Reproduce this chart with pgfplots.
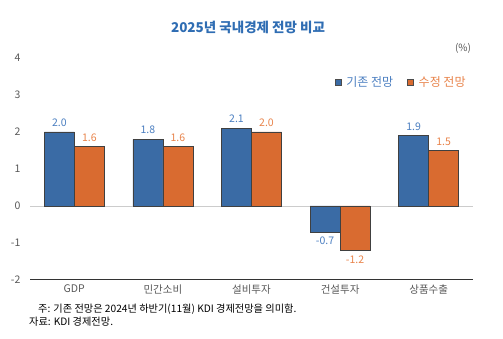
\documentclass[border=0pt]{standalone}
\usepackage{pgfplots}
\pgfplotsset{compat=1.18}
\usepackage{fontspec}
\setmainfont{Noto Sans CJK KR}
\definecolor{cblue}{HTML}{3A6BA5}
\definecolor{corange}{HTML}{D96B30}
\definecolor{lblue}{HTML}{4A7EC0}
\definecolor{lorange}{HTML}{E8834A}
\definecolor{tgray}{HTML}{595959}
\definecolor{ttitle}{HTML}{2F6DB3}
\begin{document}
\begin{tikzpicture}[x=1pt,y=1pt]
\useasboundingbox (0,0) rectangle (503,339);
\begin{axis}[
  at={(30pt,59pt)}, anchor=south west,
  scale only axis, width=443pt, height=222pt,
  ymin=-2, ymax=4, xmin=-0.5, xmax=4.5,
  ytick={-2,-1,0,1,2,3,4},
  xtick={0,1,2,3,4},
  xticklabels={GDP,민간소비,설비투자,건설투자,상품수출},
  axis x line*=bottom, axis y line*=left,
  x axis line style={draw=black!80, line width=1pt, -},
  y axis line style={draw=none},
  major tick length=0pt,
  tick label style={font=\fontsize{10.5}{11}\selectfont, text=tgray},
  /pgf/number format/assume math mode=true,
  yticklabel style={xshift=-6pt},
  xticklabel style={yshift=-1pt},
  ybar=0pt, bar width=30pt,
  nodes near coords,
  nodes near coords style={font=\fontsize{10.5}{11}\selectfont, inner sep=5pt, /pgf/number format/fixed, /pgf/number format/fixed zerofill, /pgf/number format/precision=1},
  legend columns=2,
  legend style={draw=none, fill=none, at={(0.995,0.89)}, anchor=east, font=\fontsize{12}{13}\selectfont,
    /tikz/every odd column/.append style={column sep=3pt},
    /tikz/every even column/.append style={column sep=12pt}},
  legend image code/.code={\draw[#1, draw=black!70] (0pt,-3pt) rectangle (6pt,3pt);},
  clip=false,
]
\draw[black!20, line width=0.8pt] (axis cs:-0.5,0) -- (axis cs:4.5,0);
\addplot[fill=cblue, draw=black!75, line width=0.6pt, every node near coord/.append style={text=lblue}] coordinates {(0,2.0) (1,1.8) (2,2.1) (3,-0.7) (4,1.9)};
\addplot[fill=corange, draw=black!75, line width=0.6pt, every node near coord/.append style={text=lorange}] coordinates {(0,1.6) (1,1.6) (2,2.0) (3,-1.2) (4,1.5)};
\legend{\textcolor{lblue}{기존 전망},\textcolor{lorange}{수정 전망}}
\end{axis}
\node[font=\fontsize{13.5}{14}\selectfont\bfseries, text=ttitle] at (248,312) {2025년 국내경제 전망 비교};
\node[font=\fontsize{10}{11}\selectfont, text=tgray] at (463,291) {(\%)};
\node[font=\fontsize{10.2}{11}\selectfont, anchor=west, inner sep=0pt] at (38,30) {주: 기존 전망은 2024년 하반기(11월) KDI 경제전망을 의미함.};
\node[font=\fontsize{10.2}{11}\selectfont, anchor=west, inner sep=0pt] at (29,17) {자료: KDI 경제전망.};
\end{tikzpicture}
\end{document}
